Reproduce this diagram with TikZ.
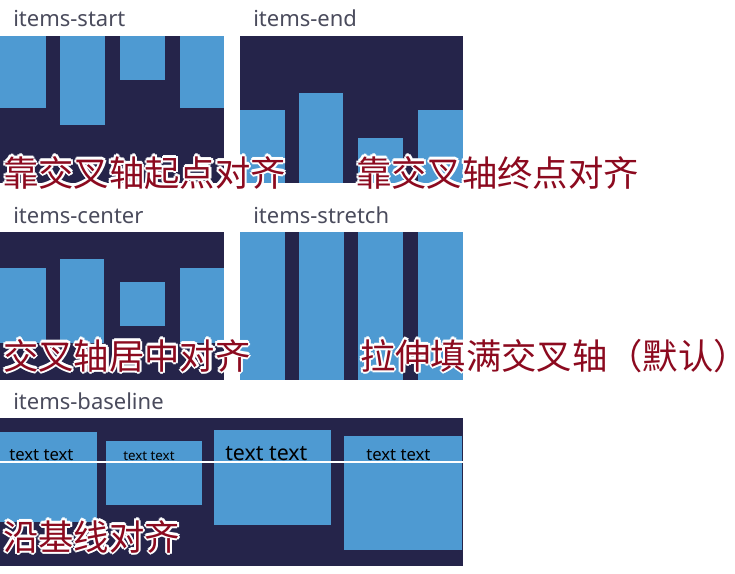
\documentclass[tikz,border=0pt]{standalone}
\usepackage{fontspec}
\setmainfont{Noto Sans}
\newfontfamily\cjk{Noto Sans CJK SC}
\definecolor{navy}{HTML}{25244A}
\definecolor{bar}{HTML}{4E9AD2}
\definecolor{tag}{HTML}{8C0A1F}
\definecolor{caption}{HTML}{4A4B5C}
\tikzset{panel/.style = {fill=navy, draw=none}}
\tikzset{barbox/.style = {fill=bar, draw=none}}
\tikzset{title/.style = {anchor=base west, inner sep=0, text=caption, font=\fontsize{16.5}{16}\selectfont}}
\newcommand{\redtag}[3]{%
  \foreach \dx/\dy in {1.6/0,-1.6/0,0/1.6,0/-1.6,1.1/1.1,-1.1/1.1,1.1/-1.1,-1.1/-1.1}
    \node [anchor=base west, inner sep=0, text=white, font=\cjk\fontsize{26.5}{26}\selectfont] at ($(#1,#2)+(\dx pt,\dy pt)$) {#3};
  \node [anchor=base west, inner sep=0, text=tag, font=\cjk\fontsize{26.5}{26}\selectfont] at (#1,#2) {#3};}
\usetikzlibrary{calc}
\begin{document}
\begin{tikzpicture}[x=0.75pt, y=-0.75pt]
    \useasboundingbox (0,0) rectangle (735,574);
    % items-start
    \node [title] (tstart) at (13,27) {items-start};
    \fill [panel] (0,36) rectangle (224,183);
    \fill [barbox] (0,36) rectangle (46,108);
    \fill [barbox] (60,36) rectangle (105,125);
    \fill [barbox] (120,36) rectangle (165,80);
    \fill [barbox] (180,36) rectangle (224,108);
    % items-end
    \node [title] (tend) at (253,27) {items-end};
    \fill [panel] (240,36) rectangle (463,183);
    \fill [barbox] (240,110) rectangle (285,183);
    \fill [barbox] (299,93) rectangle (343,183);
    \fill [barbox] (358,138) rectangle (403,183);
    \fill [barbox] (418,110) rectangle (463,183);
    \redtag{3}{186}{靠交叉轴起点对齐}
    \redtag{356}{186}{靠交叉轴终点对齐}

    % items-center
    \node [title] (tcenter) at (13,223) {items-center};
    \fill [panel] (0,232) rectangle (224,380);
    \fill [barbox] (0,268) rectangle (46,343);
    \fill [barbox] (60,259) rectangle (104,343);
    \fill [barbox] (120,282) rectangle (165,326);
    \fill [barbox] (180,268) rectangle (224,343);
    % items-stretch
    \node [title] (tstretch) at (253,223) {items-stretch};
    \fill [panel] (240,232) rectangle (463,380);
    \foreach \x in {240,299,358,418}
        \fill [barbox] (\x,232) rectangle ++(45,148);
    \redtag{3}{369}{交叉轴居中对齐}
    \redtag{360}{369}{拉伸填满交叉轴（默认）}

    % items-baseline
    \node [title] (tbase) at (13,409) {items-baseline};
    \fill [panel] (0,418) rectangle (463,566);
    \fill [barbox] (0,432) rectangle (97,522);
    \fill [barbox] (106,441) rectangle (202,505);
    \fill [barbox] (214,430) rectangle (331,525);
    \fill [barbox] (344,436) rectangle (462,550);
    \node [anchor=base west, inner sep=0, font=\fontsize{12.5}{12}\selectfont] (b1) at (9,460) {text text};
    \node [anchor=base west, inner sep=0, font=\fontsize{10}{10}\selectfont] (b2) at (123,460) {text text};
    \node [anchor=base west, inner sep=0, font=\fontsize{16}{16}\selectfont] (b3) at (225,460) {text text};
    \node [anchor=base west, inner sep=0, font=\fontsize{12.5}{12}\selectfont] (b4) at (366,460) {text text};
    \draw [white, line width=0.8pt] (0,462) -- (463,462);
    \redtag{3}{550}{沿基线对齐}
\end{tikzpicture}
\end{document}
